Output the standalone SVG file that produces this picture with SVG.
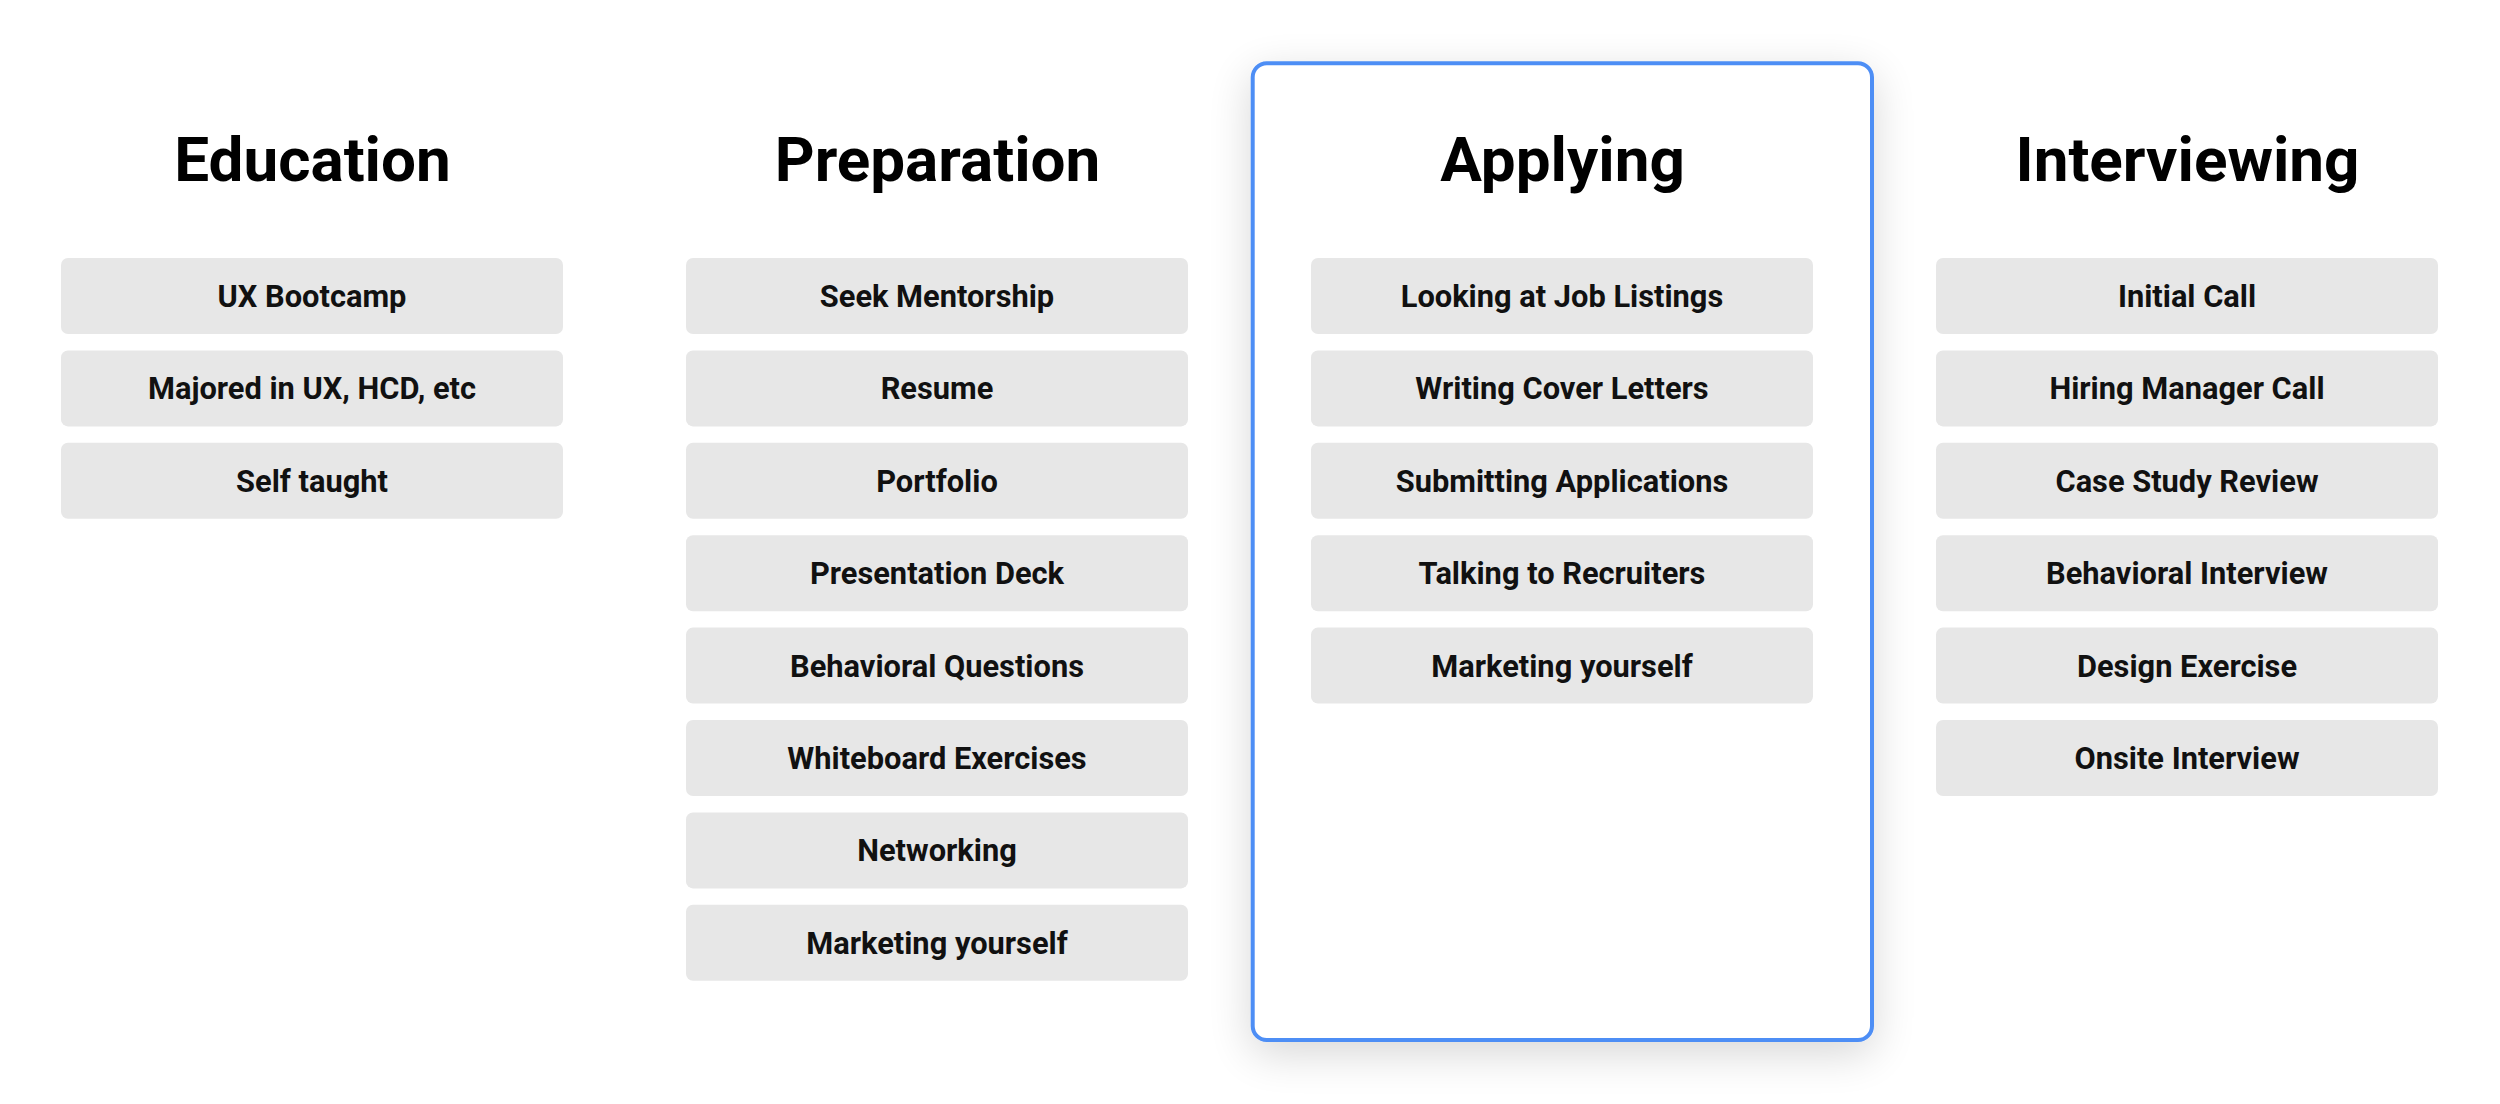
<svg xmlns="http://www.w3.org/2000/svg" width="2500" height="1104" viewBox="0 0 2500 1104">
<defs>
<style>
.h{font-family:Roboto,"Liberation Sans",sans-serif;font-weight:700;font-size:62px;fill:#000;text-anchor:middle}
.b{fill:#e7e7e7}
.t{font-family:Roboto,"Liberation Sans",sans-serif;font-weight:700;font-size:30.8px;fill:#111;text-anchor:middle}
</style>
<filter id="sh" x="-20%" y="-20%" width="140%" height="140%">
<feGaussianBlur in="SourceAlpha" stdDeviation="22"/>
<feOffset dy="12" result="b"/>
<feComponentTransfer><feFuncA type="linear" slope="0.16"/></feComponentTransfer>
<feMerge><feMergeNode/><feMergeNode in="SourceGraphic"/></feMerge>
</filter>
</defs>
<rect width="2500" height="1104" fill="#fff"/>
<g id="applying-panel">
<rect x="1252.7" y="63.3" width="619.3" height="976.7" rx="14" fill="#fff" stroke="#4e8ef5" stroke-width="4" filter="url(#sh)"/>
</g>
<g id="connectors"></g>
<g id="education">
<text class="h" x="312.5" y="181">Education</text>
<g id="edu-1"><rect class="b" x="61" y="258" width="502" height="76" rx="7"/><text class="t" x="312" y="307">UX Bootcamp</text></g>
<g id="edu-2"><rect class="b" x="61" y="350.4" width="502" height="76" rx="7"/><text class="t" x="312" y="399.4">Majored in UX, HCD, etc</text></g>
<g id="edu-3"><rect class="b" x="61" y="442.8" width="502" height="76" rx="7"/><text class="t" x="312" y="491.8">Self taught</text></g>
</g>
<g id="preparation">
<text class="h" x="937.5" y="181">Preparation</text>
<g id="prep-1"><rect class="b" x="686" y="258" width="502" height="76" rx="7"/><text class="t" x="937" y="307">Seek Mentorship</text></g>
<g id="prep-2"><rect class="b" x="686" y="350.4" width="502" height="76" rx="7"/><text class="t" x="937" y="399.4">Resume</text></g>
<g id="prep-3"><rect class="b" x="686" y="442.8" width="502" height="76" rx="7"/><text class="t" x="937" y="491.8">Portfolio</text></g>
<g id="prep-4"><rect class="b" x="686" y="535.2" width="502" height="76" rx="7"/><text class="t" x="937" y="584.2">Presentation Deck</text></g>
<g id="prep-5"><rect class="b" x="686" y="627.6" width="502" height="76" rx="7"/><text class="t" x="937" y="676.6">Behavioral Questions</text></g>
<g id="prep-6"><rect class="b" x="686" y="720" width="502" height="76" rx="7"/><text class="t" x="937" y="769">Whiteboard Exercises</text></g>
<g id="prep-7"><rect class="b" x="686" y="812.4" width="502" height="76" rx="7"/><text class="t" x="937" y="861.4">Networking</text></g>
<g id="prep-8"><rect class="b" x="686" y="904.8" width="502" height="76" rx="7"/><text class="t" x="937" y="953.8">Marketing yourself</text></g>
</g>
<g id="applying">
<text class="h" x="1562.5" y="181">Applying</text>
<g id="app-1"><rect class="b" x="1311" y="258" width="502" height="76" rx="7"/><text class="t" x="1562" y="307">Looking at Job Listings</text></g>
<g id="app-2"><rect class="b" x="1311" y="350.4" width="502" height="76" rx="7"/><text class="t" x="1562" y="399.4">Writing Cover Letters</text></g>
<g id="app-3"><rect class="b" x="1311" y="442.8" width="502" height="76" rx="7"/><text class="t" x="1562" y="491.8">Submitting Applications</text></g>
<g id="app-4"><rect class="b" x="1311" y="535.2" width="502" height="76" rx="7"/><text class="t" x="1562" y="584.2">Talking to Recruiters</text></g>
<g id="app-5"><rect class="b" x="1311" y="627.6" width="502" height="76" rx="7"/><text class="t" x="1562" y="676.6">Marketing yourself</text></g>
</g>
<g id="interviewing">
<text class="h" x="2187.5" y="181">Interviewing</text>
<g id="int-1"><rect class="b" x="1936" y="258" width="502" height="76" rx="7"/><text class="t" x="2187" y="307">Initial Call</text></g>
<g id="int-2"><rect class="b" x="1936" y="350.4" width="502" height="76" rx="7"/><text class="t" x="2187" y="399.4">Hiring Manager Call</text></g>
<g id="int-3"><rect class="b" x="1936" y="442.8" width="502" height="76" rx="7"/><text class="t" x="2187" y="491.8">Case Study Review</text></g>
<g id="int-4"><rect class="b" x="1936" y="535.2" width="502" height="76" rx="7"/><text class="t" x="2187" y="584.2">Behavioral Interview</text></g>
<g id="int-5"><rect class="b" x="1936" y="627.6" width="502" height="76" rx="7"/><text class="t" x="2187" y="676.6">Design Exercise</text></g>
<g id="int-6"><rect class="b" x="1936" y="720" width="502" height="76" rx="7"/><text class="t" x="2187" y="769">Onsite Interview</text></g>
</g>
</svg>
